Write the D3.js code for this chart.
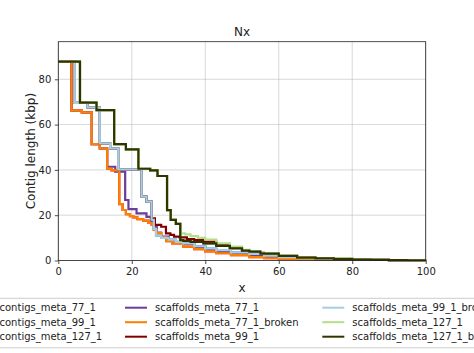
<!DOCTYPE html>
<html><head><meta charset="utf-8">
<script src="https://cdn.jsdelivr.net/npm/d3@7"></script>
<style>body{margin:0;background:#fff}svg{display:block;font-family:"DejaVu Sans",sans-serif}</style>
</head><body><svg id="c" width="474" height="353"></svg>
<script>
const seriesNames = ["contigs_meta_77_1","contigs_meta_99_1","contigs_meta_127_1","scaffolds_meta_77_1","scaffolds_meta_77_1_broken","scaffolds_meta_99_1","scaffolds_meta_99_1_broken","scaffolds_meta_127_1","scaffolds_meta_127_1_broken"];
const seriesColors = ["#E31A1C","#1F78B4","#33A02C","#6A3D9A","#FF7F00","#800000","#A6CEE3","#B2DF8A","#333300"];
const xTicks = [0,20,40,60,80,100];
const yTicks = [0,20,40,60,80];

const s77broken = [[0,87.8],[3.6,66.2],[6.4,65.4],[9.1,51.4],[11.3,49.5],[13.3,40.6],[14.5,39.8],[16.6,24.9],[17.5,22.3],[18.4,20.5],[19.5,19.6],[20.4,19],[21.5,18.3],[23.1,17.6],[24.5,16.6],[25.4,15.8],[26,13.5],[26.8,12.1],[28,10.2],[29.4,8.5],[31,7.6],[34,6.1],[37,5],[40,4],[43,3.2],[47,2.4],[52,1.5],[56,1],[60,0.8],[65,0.6],[70,0.4],[80,0.25],[90,0.15],[100,0.05]];
const s77 = [[0,87.8],[3.6,66.2],[6.4,65.4],[9.1,51.4],[11.3,49.5],[13.3,41.4],[15.5,39.2],[18.2,26.7],[19.1,22.7],[21.3,20.8],[24,19.3],[25.2,17.1],[26.2,15],[26.8,12.3],[28,10.5],[30,9],[32,8],[34,7.3],[37,6],[40,4.9],[43,3.9],[47,3],[52,2.1],[56,1.5],[60,1.1],[65,0.8],[70,0.5],[80,0.3],[90,0.15],[100,0.05]];
const s99broken = [[0,87.8],[4.5,69.6],[7.9,67.6],[11.3,51.7],[14.1,49.5],[16.3,40.2],[22.7,28.2],[24,26],[25.4,18],[26,14],[26.6,11],[28,10],[30,9.2],[32,8.2],[34,7.6],[37,6.3],[40,5.3],[43,4.6],[47,3.6],[52,2.9],[56,2.1],[60,1.5],[65,1],[70,0.7],[80,0.35],[90,0.2],[100,0.05]];
const s99 = [[0,87.8],[4.5,69.6],[7.9,67.6],[11.3,51.7],[14.1,49.5],[16.3,40.2],[22.7,28.2],[24,26],[25.4,18.6],[26.3,15.7],[28,14.9],[29.3,12],[30.5,11.3],[31.5,10.5],[33,10.2],[35,9.5],[37,9],[39.4,8.3],[43,6.8],[46.7,5.4],[50,4.2],[52,3.4],[56,2.5],[60,1.8],[65,1.2],[70,0.8],[80,0.4],[90,0.2],[100,0.05]];
const s127broken = [[0,87.8],[5.9,69.7],[10.4,66.4],[15.2,51.4],[18.4,49.1],[21.8,40.5],[25,39.8],[27,37.3],[29.6,22.2],[30.6,17.9],[32,16.2],[33.2,9],[34,8.7],[36,8.2],[39.5,7.6],[43,6.5],[46.7,5.4],[50,4.4],[52,3.9],[55,3],[60,2],[65,1.3],[70,0.9],[75,0.6],[80,0.4],[85,0.3],[90,0.2],[95,0.1],[100,0.1]];
const s127 = [[0,87.8],[5.9,69.7],[10.4,66.4],[15.2,51.4],[18.4,49.1],[21.8,40.5],[25,39.8],[27,37.3],[29.6,22.2],[30.6,17.9],[32,16.2],[33.2,12],[34.5,11.5],[36,10.8],[38,10],[40,9.2],[43,7.6],[46.7,6.1],[50,4.7],[52,3.9],[55,3],[60,2],[65,1.3],[70,0.9],[80,0.4],[90,0.2],[100,0.1]];
const c77 = s77broken, c99 = s99broken, c127 = s127broken;
const seriesData = [c77,c99,c127,s77,s77broken,s99,s99broken,s127,s127broken];

const svg = d3.select("#c");
const L=58.3, R=425.7, T=41.7, B=260.5;
const x = d3.scaleLinear().domain([0,100]).range([L,R]);
const y = d3.scaleLinear().domain([0,96.6]).range([B,T]);

// grid
const g = svg.append("g");
g.selectAll(".gx").data(xTicks).join("line").attr("x1",d=>x(d)).attr("x2",d=>x(d)).attr("y1",T).attr("y2",B).attr("stroke","#b0b0b0").attr("stroke-width",0.8).attr("opacity",0.6);
g.selectAll(".gy").data(yTicks).join("line").attr("y1",d=>y(d)).attr("y2",d=>y(d)).attr("x1",L).attr("x2",R).attr("stroke","#b0b0b0").attr("stroke-width",0.8).attr("opacity",0.6);

const line = d3.line().x(d=>x(d[0])).y(d=>y(d[1])).curve(d3.curveStepAfter);
svg.append("g").selectAll("path").data(seriesData).join("path")
  .attr("d",line).attr("fill","none").attr("stroke",(d,i)=>seriesColors[i]).attr("stroke-width",2.2).attr("stroke-linejoin","miter");

// axes
const xa = svg.append("g").attr("transform",`translate(0,${B})`).call(d3.axisBottom(x).tickValues(xTicks).tickSize(3.5).tickPadding(3.5));
const ya = svg.append("g").attr("transform",`translate(${L},0)`).call(d3.axisLeft(y).tickValues(yTicks).tickSize(3.5).tickPadding(3.5));
[xa,ya].forEach(a=>{a.select(".domain").remove();a.selectAll("text").attr("font-size",10).attr("fill","#222").attr("font-family","DejaVu Sans");a.selectAll("line").attr("stroke","#222").attr("stroke-width",0.8);});
svg.append("rect").attr("x",L).attr("y",T).attr("width",R-L).attr("height",B-T).attr("fill","none").attr("stroke","#222").attr("stroke-width",0.8);

svg.append("text").attr("x",(L+R)/2).attr("y",36).attr("text-anchor","middle").attr("font-size",12).attr("fill","#222").text("Nx");
svg.append("text").attr("x",(L+R)/2).attr("y",292).attr("text-anchor","middle").attr("font-size",12).attr("fill","#222").text("x");
svg.append("text").attr("transform",`translate(35,${(T+B)/2}) rotate(-90)`).attr("text-anchor","middle").attr("font-size",12).attr("fill","#222").text("Contig length (kbp)");

// legend
const lg = svg.append("g");
lg.append("rect").attr("x",-80).attr("y",298.3).attr("width",640).attr("height",49.5).attr("rx",2).attr("fill","#fff").attr("stroke","#ccc").attr("stroke-width",1);
const colText = [-0.5,155,352.3];
const rowY = [307.7,322.2,336.7];
seriesNames.forEach((n,i)=>{
  const c=Math.floor(i/3), r=i%3;
  const tx=colText[c];
  lg.append("line").attr("x1",tx-30).attr("x2",tx-8).attr("y1",rowY[r]).attr("y2",rowY[r]).attr("stroke",seriesColors[i]).attr("stroke-width",2);
  lg.append("text").attr("x",tx).attr("y",rowY[r]+3.6).attr("font-size",10).attr("fill","#222").text(n);
});
</script></body></html>
